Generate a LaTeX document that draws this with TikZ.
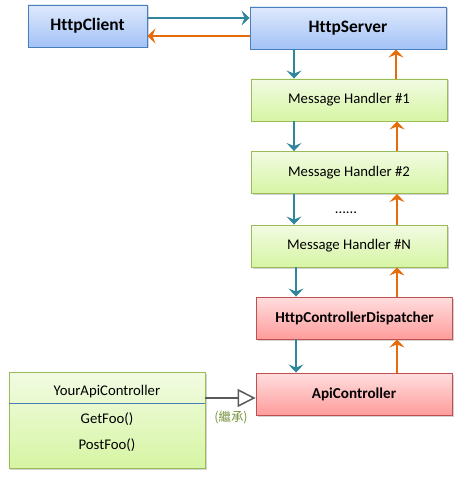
\documentclass[tikz,border=0pt]{standalone}
\usepackage{fontspec}
\setmainfont{Carlito}[Ligatures=NoCommon]
\newfontfamily\cjkfont{Noto Sans CJK TC}
\usetikzlibrary{arrows.meta,shadows}
\definecolor{bluebd}{HTML}{4A7EBB}
\definecolor{bluetop}{HTML}{DEE9FC}
\definecolor{bluebot}{HTML}{A3C2F7}
\definecolor{greenbd}{HTML}{9BBB59}
\definecolor{greentop}{HTML}{F2FBE3}
\definecolor{greenbot}{HTML}{D6F5A3}
\definecolor{redbd}{HTML}{C0504D}
\definecolor{redtop}{HTML}{FFDEDE}
\definecolor{redbot}{HTML}{FF9C9C}
\definecolor{reqcol}{HTML}{31859C}
\definecolor{rescol}{HTML}{E46C0A}
\definecolor{inhcol}{HTML}{595959}
\definecolor{labcol}{HTML}{76923C}
\tikzset{
  box/.style={draw, line width=0.9bp, minimum width=196bp, minimum height=42bp, inner sep=0pt,
    drop shadow={shadow xshift=1.5bp, shadow yshift=-1.5bp, opacity=0.35}},
  bluebox/.style={box, draw=bluebd, top color=bluetop, bottom color=bluebot, font=\fontsize{17.5}{20}\selectfont\bfseries},
  greenbox/.style={box, draw=greenbd, top color=greentop, bottom color=greenbot, font=\fontsize{14.8}{17}\selectfont},
  redbox/.style={box, draw=redbd, top color=redtop, bottom color=redbot, font=\fontsize{15.2}{18}\selectfont\bfseries},
  req/.style={draw=reqcol, line width=1.1bp, -{Stealth[inset=3bp,length=8bp,width=15bp]}},
  res/.style={draw=rescol, line width=1.1bp, -{Stealth[inset=3bp,length=8bp,width=15bp]}},
  txt/.style={font=\fontsize{14.8}{17}\selectfont, inner sep=0pt},
}
\begin{document}
\begin{tikzpicture}[x=1bp,y=-1bp]
\useasboundingbox (0,0) rectangle (462,479);
\node[bluebox, minimum width=119bp] (cli) at (87.5,26) {HttpClient};
\node[bluebox] (srv) at (348,28) {HttpServer};
\node[greenbox] (mh1) at (349,100) {Message Handler \#1};
\node[greenbox] (mh2) at (349,172.5) {Message Handler \#2};
\node[txt] (dots) at (346,213) {......};
\node[greenbox] (mhn) at (349,246) {Message Handler \#N};
\node[redbox] (dis) at (354.5,318) {HttpControllerDispatcher};
\node[redbox] (api) at (354,394) {ApiController};
% YourApiController class box
\node[draw=greenbd, line width=0.9bp, top color=greentop, bottom color=greenbot, minimum width=196bp, minimum height=96bp, inner sep=0pt,
  drop shadow={shadow xshift=1.5bp, shadow yshift=-1.5bp, opacity=0.35}] (cls) at (107,420) {};
\draw[draw=bluebd, line width=0.8bp] (cls.west |- 0,403) coordinate (dl) -- (cls.east |- 0,403) coordinate (dr);
\node[txt] (cname) at (107,392) {YourApiController};
\node[txt] (m1) at (107,419) {GetFoo()};
\node[txt] (m2) at (107,445) {PostFoo()};
% client/server arrows
\draw[req] (cli.east |- 0,18) -- (srv.west |- 0,18);
\draw[res] (srv.west |- 0,36) -- (cli.east |- 0,36);
% vertical arrows
\coordinate (xa) at (294,0);
\coordinate (xb) at (396,0);
\coordinate (xc) at (296,0);
\coordinate (xd) at (397,0);
\draw[req] (srv.south -| xa) -- (mh1.north -| xa);
\draw[res] (mh1.north -| xb) -- (srv.south -| xb);
\draw[req] (mh1.south -| xa) -- (mh2.north -| xa);
\draw[res] (mh2.north -| xd) -- (mh1.south -| xd);
\draw[req] (mh2.south -| xa) -- (mhn.north -| xa);
\draw[res] (mhn.north -| xd) -- (mh2.south -| xd);
\draw[req] (mhn.south -| xc) -- (dis.north -| xc);
\draw[res] (dis.north -| xd) -- (mhn.south -| xd);
\draw[req] (dis.south -| xc) -- (api.north -| xc);
\draw[res] (api.north -| xd) -- (dis.south -| xd);
% inheritance
\draw[draw=inhcol, line width=1.5bp, -{Triangle[open, length=18bp, width=18bp, fill=white]}] (cls.east |- 0,398) -- (api.west |- 0,398);
\node[font=\cjkfont\fontsize{12.5}{14}\selectfont, text=labcol, inner sep=0pt] (lab) at (231,417) {(繼承)};
\end{tikzpicture}
\end{document}
